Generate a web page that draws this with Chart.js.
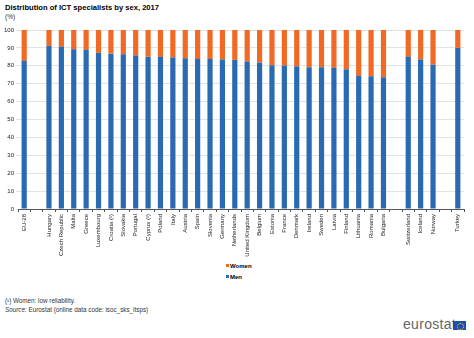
<!DOCTYPE html>
<html>
<head>
<meta charset="utf-8">
<script src="https://cdn.jsdelivr.net/npm/chart.js@4.4.1/dist/chart.umd.min.js"></script>
<style>
  html, body { margin: 0; padding: 0; background: #fff; }
  body { width: 474px; height: 338px; position: relative; overflow: hidden;
         font-family: Arial, "Liberation Sans", sans-serif; color: #000; }
  #title { position: absolute; left: 5px; top: 3px; font-size: 7.6px; font-weight: bold; }
  #unit { position: absolute; left: 5px; top: 13px; font-size: 6.5px; color: #333; }
  #wrap { position: absolute; left: 0; top: 24px; width: 474px; height: 237px; }
  #legend { position: absolute; left: 226px; top: 262px; font-size: 6px; font-weight: bold; }
  #legend div { height: 11px; line-height: 8px; }
  #legend span.sw { display: inline-block; width: 3px; height: 3px; margin-right: 1px; vertical-align: 1px; }
  #notes { position: absolute; left: 5px; top: 296px; font-size: 6.3px; color: #333; line-height: 9px; }
  #logo { position: absolute; left: 403px; top: 316px; font-size: 14px; color: #666; letter-spacing: 0.3px; }
  #flag { position: absolute; left: 453px; top: 321px; width: 13px; height: 9px; background: #1f4fae; }
  #flag i { position: absolute; left: 3.5px; top: 1.5px; width: 5px; height: 5px; border-radius: 50%;
            border: 0.8px dotted #f5d000; }
</style>
</head>
<body>
<div id="title">Distribution of ICT specialists by sex, 2017</div>
<div id="unit">(%)</div>
<div id="wrap"><canvas id="c"></canvas></div>
<div id="legend"></div>
<div id="notes">(¹) Women: low reliability.<br><i>Source:</i> Eurostat (online data code: isoc_sks_itsps)</div>
<div id="logo">eurostat</div>
<div id="flag"><i></i></div>
<script>
// Countries; empty strings separate EU aggregate, member states, EFTA and candidates
const categories = ["EU-28", "", "Hungary", "Czech Republic", "Malta", "Greece", "Luxembourg",
  "Croatia (¹)", "Slovakia", "Portugal", "Cyprus (¹)", "Poland", "Italy", "Austria", "Spain",
  "Slovenia", "Germany", "Netherlands", "United Kingdom", "Belgium", "Estonia", "France",
  "Denmark", "Ireland", "Sweden", "Latvia", "Finland", "Lithuania", "Romania", "Bulgaria", "",
  "Switzerland", "Iceland", "Norway", "", "Turkey"];

// Share of men among ICT specialists (%)
const men = [82.8, null, 91.1, 90.6, 89.2, 88.9, 87.2, 86.8, 86.4, 85.7, 85.1, 85.0, 84.6,
  84.2, 83.8, 83.8, 83.5, 83.3, 82.4, 81.7, 80.3, 80.2, 79.8, 79.2, 79.2, 78.9, 78.1, 74.4,
  74.2, 73.6, null, 85.0, 83.5, 80.6, null, 90.0];

// Share of women among ICT specialists (%)
const women = [17.2, null, 8.9, 9.4, 10.8, 11.1, 12.8, 13.2, 13.6, 14.3, 14.9, 15.0, 15.4,
  15.8, 16.2, 16.2, 16.5, 16.7, 17.6, 18.3, 19.7, 19.8, 20.2, 20.8, 20.8, 21.1, 21.9, 25.6,
  25.8, 26.4, null, 15.0, 16.5, 19.4, null, 10.0];

const yTicks = [0, 10, 20, 30, 40, 50, 60, 70, 80, 90, 100];

const BLUE = "#2a6ab3";
const ORANGE = "#f06a25";
const FONT = "Arial, 'Liberation Sans', sans-serif";

const datasets = [
  { label: "Men", data: men, backgroundColor: BLUE, stack: "s" },
  { label: "Women", data: women, backgroundColor: ORANGE, stack: "s" }
];

new Chart(document.getElementById("c"), {
  type: "bar",
  data: { labels: categories, datasets: datasets },
  options: {
    responsive: true,
    maintainAspectRatio: false,
    animation: false,
    layout: { padding: { left: 0, right: 10, top: 6, bottom: 0 } },
    datasets: { bar: { categoryPercentage: 1, barPercentage: 0.42 } },
    plugins: { legend: { display: false }, tooltip: { enabled: false } },
    scales: {
      x: {
        stacked: true,
        grid: { offset: true, drawOnChartArea: false, drawTicks: true, tickLength: 3, color: "#555" },
        border: { display: true, color: "#555" },
        ticks: { autoSkip: false, maxRotation: 90, minRotation: 90, padding: 2,
                 color: "#222", font: { family: FONT, size: 6 } },
        afterFit: s => { s.height = 52; }
      },
      y: {
        stacked: true, min: 0, max: 100,
        afterBuildTicks: s => { s.ticks = yTicks.map(v => ({ value: v })); },
        grid: { color: "#e3e3e3", drawTicks: true, tickLength: 2 },
        border: { display: false },
        ticks: { padding: 2, color: "#222", font: { family: FONT, size: 6 } },
        afterFit: s => { s.width = 18; }
      }
    }
  }
});

// Legend: women above men, as stacked
const lg = document.getElementById("legend");
[datasets[1], datasets[0]].forEach(d => {
  const row = document.createElement("div");
  row.innerHTML = '<span class="sw" style="background:' + d.backgroundColor + '"></span>' + d.label;
  lg.appendChild(row);
});
</script>
</body>
</html>
